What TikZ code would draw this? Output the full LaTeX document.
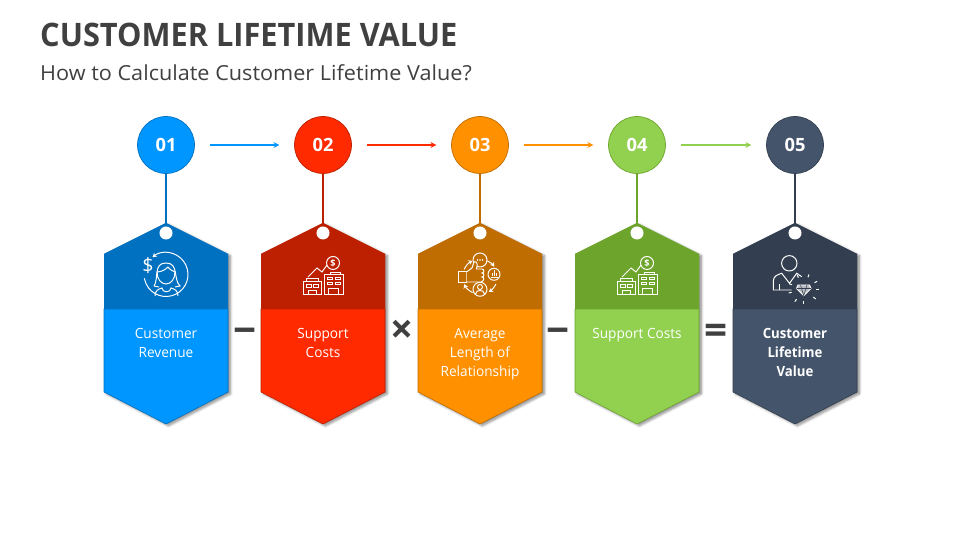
\documentclass[tikz,border=0pt]{standalone}
\usepackage{fontspec}
\setmainfont{Open Sans}
\usepackage{xcolor}
\usetikzlibrary{arrows.meta,shadows.blur}
\definecolor{inkgray}{HTML}{404040}
\definecolor{blueL}{HTML}{0096FF}
\definecolor{blueD}{HTML}{0070C0}
\definecolor{redL}{HTML}{FF2A00}
\definecolor{redD}{HTML}{BC2000}
\definecolor{orangeL}{HTML}{FF9000}
\definecolor{orangeD}{HTML}{BF6C00}
\definecolor{greenL}{HTML}{92D050}
\definecolor{greenD}{HTML}{6DA52C}
\definecolor{slateL}{HTML}{44546A}
\definecolor{slateD}{HTML}{333F50}
\newfontfamily\titlefont[FakeStretch=0.95]{Open Sans}
\newfontfamily\subfont[FakeStretch=1.043]{Open Sans}
\newfontfamily\cardfont[FakeStretch=0.97]{Open Sans}
\newfontfamily\cardboldfont[FakeStretch=0.94]{Open Sans}
\tikzset{
	titletext/.style={anchor=base west, inner sep=0, text=inkgray, font=\fontsize{9.2}{11}\titlefont\bfseries},
	subtext/.style={anchor=base west, inner sep=0, text=inkgray, font=\fontsize{5.9}{7}\subfont},
	numcircle/.style={circle, minimum size=16.2pt, inner sep=0, line width=0.2pt, text=white, font=\fontsize{5.2}{6}\selectfont\bfseries},
	hole/.style={circle, fill=white, minimum size=3.7pt, inner sep=0},
	cardtext/.style={anchor=north, align=center, inner sep=0, text=white, font=\fontsize{4}{5.4}\cardfont},
	cardbold/.style={cardtext, font=\fontsize{4}{5.4}\cardboldfont\bfseries},
	optext/.style={inner sep=0, text=inkgray, font=\fontsize{11.5}{12}\selectfont\bfseries},
	flowarrow/.style={line width=0.5pt, shorten <=4.3pt, shorten >=4.2pt, -{Stealth[length=1.7pt,width=1.7pt]}},
	stem/.style={line width=0.55pt},
	cardshadow/.style={blur shadow={shadow xshift=0.7pt, shadow yshift=-0.5pt, shadow blur radius=0.7pt, shadow blur steps=6, shadow opacity=45}},
	iconline/.style={draw=white, line width=0.28pt},
	pics/buildings/.style={code={
		\draw[iconline] (-20,-1) rectangle (-2,12) (-17,-4) rectangle (-5,-1)
			(-17,2) rectangle (-12,5) (-10,2) rectangle (-5,5) (-15,8) rectangle (-7,12);
		\draw[iconline] (1,-8) rectangle (20,12) (7,-10) rectangle (17,-8)
			(4,-5) rectangle (9,-3) (12,-5) rectangle (17,-3)
			(4,0) rectangle (9,2) (12,0) rectangle (17,2) (5,6) rectangle (15,12);
		\draw[iconline] (-15,-5) -- (-6,-14) -- (-1,-10) -- (4,-17);
		\draw[iconline] (10,-19) circle[radius=6.5];
		\node[inner sep=0, text=white, font=\fontsize{2.6}{3}\selectfont\bfseries] (coin) at (10,-19) {\$};
	}}
}

\begin{document}
\begin{tikzpicture}[x=0.01cm, y=-0.01cm]
	\useasboundingbox (0,0) rectangle (960,540);

	\node[titletext] (title) at (39.5,46.5) {CUSTOMER LIFETIME VALUE};
	\node[subtext] (subtitle) at (39.5,81) {How to Calculate Customer Lifetime Value?};

	% cards
	\foreach \n/\cx/\lt/\dk/\sty/\txt in {
		1/166/blueL/blueD/cardtext/{Customer\\Revenue},
		2/323/redL/redD/cardtext/{Support\\Costs},
		3/480/orangeL/orangeD/cardtext/{Average\\Length of\\Relationship},
		4/637/greenL/greenD/cardtext/{Support Costs},
		5/795/slateL/slateD/cardbold/{Customer\\Lifetime\\Value}}{
		\fill[\dk, cardshadow] (\cx-62,254) -- (\cx,223) -- (\cx+62,254) -- (\cx+62,392) -- (\cx,424) -- (\cx-62,392) -- cycle;
		\filldraw[fill=\lt, draw=\dk, line width=0.15pt] (\cx-62,309) -- (\cx+62,309) -- (\cx+62,392) -- (\cx,424) -- (\cx-62,392) -- cycle;
		\fill[\dk] (\cx-62,254) -- (\cx,223) -- (\cx+62,254) -- (\cx+62,309) -- (\cx-62,309) -- cycle;
		\node[numcircle, fill=\lt, draw=\dk] (c\n) at (\cx,145) {0\n};
		\node[hole] (hole\n) at (\cx,233) {};
		\draw[stem, \dk] (c\n) -- (hole\n);
		\node[\sty] (label\n) at (\cx,327.3) {\txt};
	}

	% arrows
	\draw[flowarrow, blueL] (c1) -- (c2);
	\draw[flowarrow, redL] (c2) -- (c3);
	\draw[flowarrow, orangeL] (c3) -- (c4);
	\draw[flowarrow, greenL] (c4) -- (c5);

	% operators
	\node[optext] (op1) at (245.5,336) {−};
	\node[optext] (op2) at (402,332) {×};
	\node[optext] (op3) at (558.5,336) {−};
	\node[optext] (op4) at (716,334) {=};

	% icon 1
	\draw[iconline, {Stealth[length=1.2pt,width=1.4pt]}-] (166,274.5) ++(232:22) arc[start angle=232, end angle=530, radius=22];
	\node[inner sep=0, text=white, font=\fontsize{5.6}{6}\selectfont] (dollar) at (148,266) {\$};
	\draw[iconline] (154,286) .. controls (159,279) and (153,263) .. (166,263) .. controls (179,263) and (173,279) .. (180,286) -- (175,287);
	\draw[iconline] (154,286) -- (159,287);
	\draw[iconline] (157,272) .. controls (162,272) and (166,269) .. (168,267) .. controls (170,270) and (173,271) .. (175,272) .. controls (175,279) and (171,284) .. (166,284) .. controls (161,284) and (157,279) .. (157,272);
	\draw[iconline] (155,296) .. controls (155,291) and (158,289) .. (162,288) .. controls (162,293) and (171,293) .. (171,288) .. controls (175,289) and (178,291) .. (178,296);

	% icon 2 and 4
	\pic at (323,282) {buildings};
	\pic at (637,282) {buildings};

	% icon 3
	\draw[iconline] (480,260) circle[radius=7] (494,274.3) circle[radius=6] (480,289.3) circle[radius=7];
	\fill[white] (477.5,260) circle (0.25pt) (480,260) circle (0.25pt) (482.5,260) circle (0.25pt);
	\draw[iconline] (490.5,277) -- (497.5,277) (492,276) -- (492,273) (494,276) -- (494,270.5) (496,276) -- (496,273);
	\draw[iconline] (480,287) circle[radius=2.5] (475.5,294) .. controls (476,291) and (478,290.5) .. (480,290.5) .. controls (482,290.5) and (484,291) .. (484.5,294);
	\draw[iconline] (458.5,271) rectangle (466.5,282.5);
	\filldraw[iconline, fill=orangeD] (466.5,272) -- (472,268) -- (474,262) .. controls (477,261) and (478,264) .. (476.5,269) -- (482,269) .. controls (484.5,269) and (484.5,273) .. (482,273)
		.. controls (484.5,273) and (484.5,277) .. (482,277) .. controls (484.5,277) and (484.5,281) .. (481,282) -- (466.5,282);
	\draw[iconline, -{Stealth[length=1.2pt,width=1.4pt]}] (480,276.7) ++(205:17.5) arc[start angle=205, end angle=245, radius=17.5];
	\draw[iconline, -{Stealth[length=1.2pt,width=1.4pt]}] (480,276.7) ++(295:17.5) arc[start angle=295, end angle=325, radius=17.5];
	\draw[iconline, -{Stealth[length=1.2pt,width=1.4pt]}] (480,276.7) ++(25:17.5) arc[start angle=25, end angle=60, radius=17.5];
	\draw[iconline, -{Stealth[length=1.2pt,width=1.4pt]}] (480,276.7) ++(115:17.5) arc[start angle=115, end angle=155, radius=17.5];

	% icon 5
	\draw[iconline] (789.3,263.3) circle[radius=7.7];
	\draw[iconline] (791.7,290) -- (773.3,290) -- (773.3,281) .. controls (773.3,276) and (778,274.5) .. (781.7,273.3) -- (789.5,283.3) -- (796.7,273.3) -- (801.7,276.7);
	\draw[iconline] (779.3,284.3) -- (779.3,290);
	\filldraw[iconline, fill=white, fill opacity=0.65] (798,285) -- (809.5,285) -- (811,288.5) -- (803.7,295.7) -- (796.5,288.5) -- cycle;
	\draw[slateD, line width=0.15pt] (796.5,288.5) -- (811,288.5) (800.5,285) -- (803.7,295.7) -- (807,285);
	\foreach \a in {0,40,90,125,165,200,245,290,330}{
		\draw[iconline] (803.7,289) ++(\a:12.5) -- ++(\a:3);
	}
\end{tikzpicture}
\end{document}
